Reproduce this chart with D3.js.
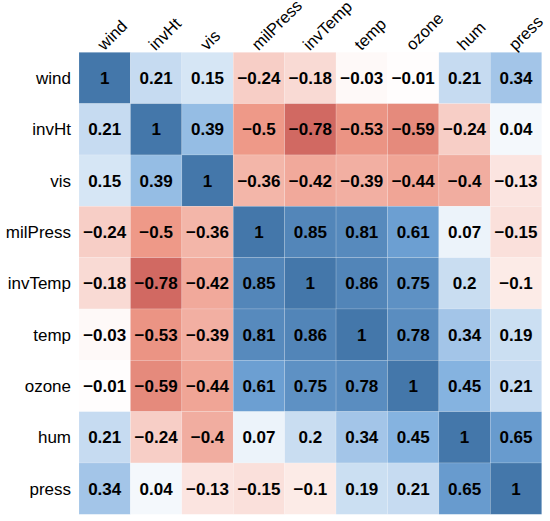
<!DOCTYPE html>
<html>
<head>
<meta charset="utf-8">
<script src="https://cdn.jsdelivr.net/npm/d3@7"></script>
<style>
html,body{margin:0;padding:0;background:#fff;}
svg{display:block;font-family:"Liberation Sans",Arial,Helvetica,sans-serif;}
</style>
</head>
<body>
<svg id="chart" width="550" height="521"></svg>
<script>
const variables = ["wind","invHt","vis","milPress","invTemp","temp","ozone","hum","press"];
const corrWind     = [1, 0.21, 0.15, -0.24, -0.18, -0.03, -0.01, 0.21, 0.34];
const corrInvHt    = [0.21, 1, 0.39, -0.5, -0.78, -0.53, -0.59, -0.24, 0.04];
const corrVis      = [0.15, 0.39, 1, -0.36, -0.42, -0.39, -0.44, -0.4, -0.13];
const corrMilPress = [-0.24, -0.5, -0.36, 1, 0.85, 0.81, 0.61, 0.07, -0.15];
const corrInvTemp  = [-0.18, -0.78, -0.42, 0.85, 1, 0.86, 0.75, 0.2, -0.1];
const corrTemp     = [-0.03, -0.53, -0.39, 0.81, 0.86, 1, 0.78, 0.34, 0.19];
const corrOzone    = [-0.01, -0.59, -0.44, 0.61, 0.75, 0.78, 1, 0.45, 0.21];
const corrHum      = [0.21, -0.24, -0.4, 0.07, 0.2, 0.34, 0.45, 1, 0.65];
const corrPress    = [0.34, 0.04, -0.13, -0.15, -0.1, 0.19, 0.21, 0.65, 1];
const matrix = [corrWind, corrInvHt, corrVis, corrMilPress, corrInvTemp, corrTemp, corrOzone, corrHum, corrPress];

const cells = [];
matrix.forEach((row, i) => row.forEach((v, j) => cells.push({row: variables[i], col: variables[j], value: v})));

const svg = d3.select("#chart");
const gLeft = 79, gTop = 52.3, gRight = 541.7, gBottom = 514.3;

const x = d3.scaleBand().domain(variables).range([gLeft, gRight]);
const y = d3.scaleBand().domain(variables).range([gTop, gBottom]);
const color = d3.scaleLinear()
  .domain([-1, -0.5, 0, 0.5, 1])
  .range(["#BB4444", "#EE9988", "#FFFFFF", "#77AADD", "#4477AA"])
  .interpolate(d3.interpolateRgb);

svg.append("g").selectAll("rect").data(cells).join("rect")
  .attr("x", d => x(d.col))
  .attr("y", d => y(d.row))
  .attr("width", x.bandwidth())
  .attr("height", y.bandwidth())
  .attr("fill", d => color(d.value))
  .attr("stroke", "#ffffff")
  .attr("stroke-opacity", 0.25)
  .attr("stroke-width", 0.6);

const fmt = v => String(v).replace("-", "\u2212");

svg.append("g").selectAll("text").data(cells).join("text")
  .attr("x", d => x(d.col) + x.bandwidth() / 2)
  .attr("y", d => y(d.row) + y.bandwidth() / 2)
  .attr("dy", "0.36em")
  .attr("text-anchor", "middle")
  .attr("font-size", 17)
  .attr("font-weight", "bold")
  .attr("fill", "#000")
  .text(d => fmt(d.value));

// row labels
const yAxis = svg.append("g")
  .attr("transform", `translate(${gLeft - 8},0)`)
  .call(d3.axisLeft(y).tickSize(0).tickPadding(0));
yAxis.select(".domain").remove();
yAxis.selectAll("text")
  .attr("font-size", 17)
  .attr("font-family", "'Liberation Sans',Arial,Helvetica,sans-serif")
  .attr("fill", "#000")
  .attr("dy", "0.36em");

// column labels
svg.append("g").selectAll("text").data(variables).join("text")
  .attr("transform", d => `translate(${x(d) + x.bandwidth() / 2 - 0.5},${gTop - 1}) rotate(-45)`)
  .attr("text-anchor", "start")
  .attr("font-size", 16.5)
  .attr("fill", "#000")
  .text(d => d);
</script>
</body>
</html>
